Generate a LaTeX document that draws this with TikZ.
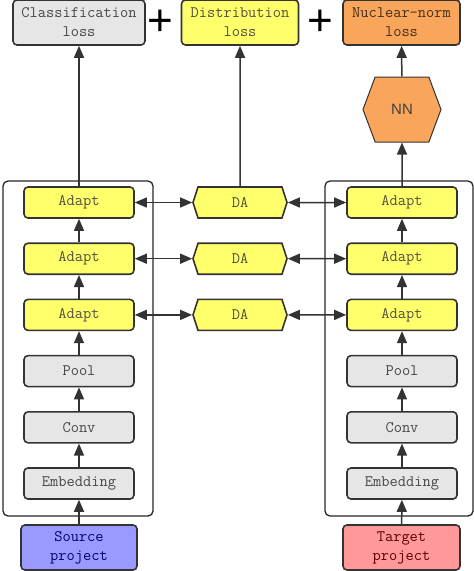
\documentclass[tikz,border=0pt]{standalone}
\usepackage{fontspec}
\newfontfamily\nnfont{Liberation Sans}
\usetikzlibrary{positioning}
\usetikzlibrary{arrows.meta}
\usetikzlibrary{shapes.symbols}

\definecolor{adaptyellow}{HTML}{FFFF6B}
\definecolor{layergray}{HTML}{E6E6E6}
\definecolor{lossorange}{HTML}{F9A65C}
\definecolor{srcblue}{HTML}{9999FF}
\definecolor{tgtpink}{HTML}{FF9999}
\definecolor{edgegray}{HTML}{333333}

\begin{document}
\begin{tikzpicture}[x=1pt, y=-1pt, node distance=23.6pt,
    box/.style={rectangle, rounded corners=4pt, draw=edgegray, line width=1.6pt, minimum width=110pt, minimum height=31pt, inner sep=0pt, align=center, font=\fontsize{16}{19}\selectfont\ttfamily},
    layer/.style={box, fill=layergray, text=black!72},
    adapt/.style={box, fill=adaptyellow, text=black!78!yellow},
    loss/.style={box, minimum height=45pt},
    da/.style={signal, signal to=west and east, signal pointer angle=144, draw=edgegray, line width=1.6pt, fill=adaptyellow, text=black!78!yellow, minimum width=94pt, minimum height=31pt, inner sep=0pt, font=\fontsize{16}{19}\selectfont\ttfamily},
    hex/.style={signal, signal to=west and east, signal pointer angle=139, draw=edgegray, line width=1pt, fill=lossorange, text=black!75, minimum width=78pt, minimum height=65pt, inner sep=0pt, font=\nnfont\fontsize{15}{18}\selectfont},
    link/.style={line width=1.5pt, draw=edgegray, -{Triangle[length=12pt,width=10pt]}},
    twoway/.style={line width=1.5pt, draw=edgegray, {Triangle[length=12pt,width=10pt]}-{Triangle[length=12pt,width=10pt]}},
    panel/.style={draw=black!85, line width=1.3pt, rounded corners=5pt},
    plus/.style={inner sep=0pt, font=\nnfont\fontsize{44}{44}\selectfont}
  ]
  \useasboundingbox (0,0) rectangle (474,571);

  % the two feature extractors
  \draw[panel] (3,181) rectangle (153,516);
  \draw[panel] (325,181) rectangle (473,516);

  % source side
  \node[layer]  (embS)  at (79,483.5) {Embedding};
  \node[layer]  (convS) [above=of embS] {Conv};
  \node[layer]  (poolS) [above=of convS] {Pool};
  \node[adapt]  (adaS3) [above=of poolS] {Adapt};
  \node[adapt]  (adaS2) [above=of adaS3] {Adapt};
  \node[adapt]  (adaS1) [above=of adaS2] {Adapt};
  \node[box, fill=srcblue, text=black!60!blue, minimum width=116pt, minimum height=45pt] (src) at (79,547.5) {Source\\project};

  % target side
  \node[layer]  (embT)  at (402,483.5) {Embedding};
  \node[layer]  (convT) [above=of embT] {Conv};
  \node[layer]  (poolT) [above=of convT] {Pool};
  \node[adapt]  (adaT3) [above=of poolT] {Adapt};
  \node[adapt]  (adaT2) [above=of adaT3] {Adapt};
  \node[adapt]  (adaT1) [above=of adaT2] {Adapt};
  \node[box, fill=tgtpink, text=black!65!red, minimum width=117pt, minimum height=45pt] (tgt) at (401.5,547.5) {Target\\project};

  % losses
  \node[loss, fill=layergray, text=black!72, minimum width=132pt] (cls) at (79,22.5) {Classification\\loss};
  \node[loss, fill=adaptyellow, text=black!78!yellow, minimum width=117pt] (dist) at (240,22.5) {Distribution\\loss};
  \node[loss, fill=lossorange, text=black!65!brown, minimum width=117pt] (nuc) at (401.5,22.5) {Nuclear-norm\\loss};
  \node[plus] (plusA) at (160.5,23) {+};
  \node[plus] (plusB) at (320.5,23) {+};

  % alignment blocks
  \node[da] (da1) at (dist |- adaS1) {DA};
  \node[da] (da2) at (dist |- adaS2) {DA};
  \node[da] (da3) at (dist |- adaS3) {DA};
  \node[hex] (nn) at (402,109.5) {NN};

  \draw[link] (src) -- (embS);
  \draw[link] (embS) -- (convS);
  \draw[link] (convS) -- (poolS);
  \draw[link] (poolS) -- (adaS3);
  \draw[link] (adaS3) -- (adaS2);
  \draw[link] (adaS2) -- (adaS1);
  \draw[link] (adaS1) -- (cls);

  \draw[link] (tgt) -- (embT);
  \draw[link] (embT) -- (convT);
  \draw[link] (convT) -- (poolT);
  \draw[link] (poolT) -- (adaT3);
  \draw[link] (adaT3) -- (adaT2);
  \draw[link] (adaT2) -- (adaT1);
  \draw[link] (adaT1) -- (nn);
  \draw[link] (nn) -- (nuc);

  \draw[link] (da1) -- (dist);
  \draw[twoway] (adaS1) -- (da1);
  \draw[twoway] (da1) -- (adaT1);
  \draw[twoway] (adaS2) -- (da2);
  \draw[twoway] (da2) -- (adaT2);
  \draw[twoway] (adaS3) -- (da3);
  \draw[twoway] (da3) -- (adaT3);
\end{tikzpicture}
\end{document}
